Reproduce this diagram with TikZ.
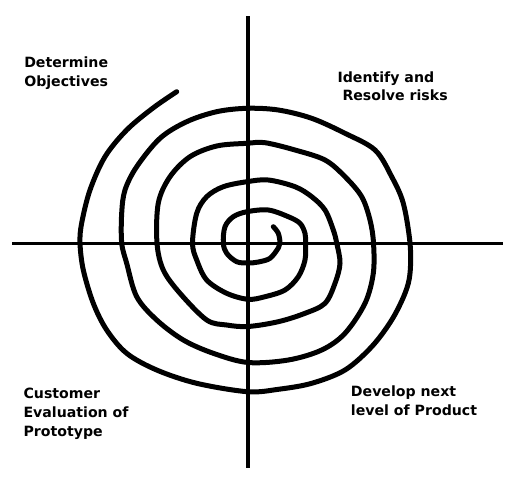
\documentclass[tikz,border=0pt]{standalone}
\usepackage{fontspec}
\setmainfont{DejaVu Sans}
\begin{document}
\begin{tikzpicture}[x=0.75pt,y=-0.75pt,
  spiralline/.style={line width=3.75pt,line cap=round,line join=round},
  vaxis/.style={line width=3pt},
  haxis/.style={line width=2.25pt},
  lbl/.style={anchor=base west,inner sep=0pt,align=left,
    font=\fontsize{10.6pt}{13.9pt}\selectfont\bfseries,text=black}]
\fill[white] (0,0) rectangle (528,493);
\useasboundingbox (0,0) rectangle (528,493);
% axes
\coordinate (vtop) at (247.5,16);
\coordinate (vbot) at (247.5,468);
\coordinate (hleft) at (12,243);
\coordinate (hright) at (503,243);
\draw[vaxis] (vtop) -- (vbot);
\draw[haxis] (hleft) -- (hright);
% spiral
\draw[spiralline] plot[smooth,tension=0.55] coordinates {
(273.3,226.7) (278.3,233.3) (280,243) (278.3,248) (270,258.3) (258.3,262) (248,263)
(236.7,261.7) (226.7,253.3) (223.3,243)
(225,226.7) (233.3,216.7) (247,211.7)
(268.3,210) (288.3,216.7) (300,223.3) (305,233.3) (305.5,243)
(305,260) (298.3,276.7) (285,290) (265,296.7) (248,299.3)
(226.7,293.3) (206.7,280) (196.7,260) (192.5,243)
(196.7,213.3) (206.7,196.7) (223.3,186.7) (247,181.7)
(268.3,180) (295,186.7) (311.7,196.7) (325,210) (333.3,230) (336.7,243)
(340,263.3) (335,283.3) (325,303.3) (305,313.3) (278.3,321.7) (248,326.5)
(226.7,325) (206.7,320) (180,293.3) (163.3,270) (157,243)
(158.3,203) (170,176.7) (190,156.7) (216.7,146) (247,143.3)
(265,142.7) (295,150) (325,160) (345,176.7) (361.7,196.7) (370,220) (373.5,243)
(373.3,273.3) (365,303.3) (345,333.3) (321.7,350) (288.3,360) (248,362.5)
(213.3,353.3) (183.3,340) (156.7,320) (136.7,296.7) (126.7,263.3) (121.7,243)
(121.7,213) (125,190) (136.7,166.7) (160,138.3) (186.7,121.7) (216.7,111.7) (247,108.3)
(278.3,110) (311.7,118.3) (345,133.3) (375,150) (391.7,176.7) (403.3,203.3) (410,243)
(410,273.3) (405,293.3) (391.7,320) (371.7,346.7) (345,370) (311.7,383.3) (278.3,389.3) (247.5,391.7)
(196.7,383.3) (156.7,370) (126.7,353.3) (106.7,330) (93.3,303.3) (83.3,270) (80,243)
(81.7,223) (90,190) (105,156.7) (126.7,130) (153,108) (176.7,91.7)
};
% labels (anchored at the baseline of their last line)
\node[lbl] (obj) at (24,86.5) {Determine\\Objectives};
\node[lbl] (risk) at (337.3,100.7) {Identify and\\\hspace*{0.35em}Resolve risks};
\node[lbl] (cust) at (23.3,436) {Customer\\Evaluation of\\Prototype};
\node[lbl] (dev) at (350.7,415) {Develop next\\level of Product};
\end{tikzpicture}
\end{document}
